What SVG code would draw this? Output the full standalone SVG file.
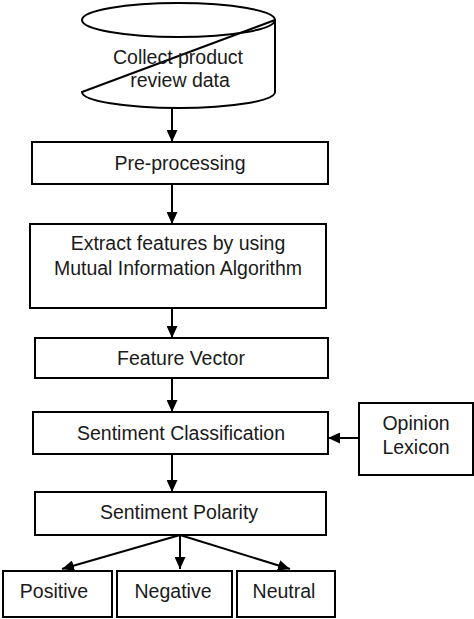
<svg xmlns="http://www.w3.org/2000/svg" width="474" height="619" viewBox="0 0 474 619">
<style>
.box{fill:#fff;stroke:#000;stroke-width:2}
.fillonly{fill:#fff;stroke:none}
.t{font-family:"Liberation Sans",Arial,sans-serif;font-size:19.5px;fill:#1a1a1a;text-anchor:middle}
.c{fill:none;stroke:#000;stroke-width:2}
</style>
<defs>
<marker id="ah" viewBox="0 0 12 11" refX="12" refY="5.5" markerWidth="12" markerHeight="11" markerUnits="userSpaceOnUse" orient="auto">
<path d="M0,0 L12,5.5 L0,11 Z" fill="#000"/>
</marker>
</defs>
<rect width="474" height="619" fill="#fff"/>
<g id="collect">
<ellipse class="box" cx="178.5" cy="20" rx="96.5" ry="17"/>
<path class="c" d="M275,20 L275,92 A96.5,16 0 0 1 82,92 L275,20"/>
<text class="t" x="178" y="64">Collect product</text>
<text class="t" x="180" y="87">review data</text>
</g>
<g id="preprocessing">
<rect class="box" x="32" y="142" width="296" height="42"/>
<text class="t" x="180" y="170">Pre-processing</text>
</g>
<g id="extract">
<rect class="box" x="30" y="224" width="296" height="84"/>
<text class="t" x="178" y="250">Extract features by using</text>
<text class="t" x="178" y="275">Mutual Information Algorithm</text>
</g>
<g id="featurevector">
<rect class="box" x="35" y="338" width="293" height="40"/>
<text class="t" x="181" y="365">Feature Vector</text>
</g>
<g id="classification">
<rect class="box" x="33" y="412" width="295" height="42"/>
<text class="t" x="181" y="440">Sentiment Classification</text>
</g>
<g id="lexicon">
<rect class="box" x="359" y="403" width="114" height="72"/>
<text class="t" x="416" y="430">Opinion</text>
<text class="t" x="416" y="454">Lexicon</text>
</g>
<g id="polarity">
<rect class="box" x="35" y="492" width="291" height="43"/>
<text class="t" x="179" y="519">Sentiment Polarity</text>
</g>
<g id="positive">
<rect class="box" x="3" y="571" width="109" height="46"/>
<text class="t" x="54" y="598">Positive</text>
</g>
<g id="negative">
<rect class="box" x="117" y="571" width="115" height="46"/>
<text class="t" x="173" y="598">Negative</text>
</g>
<g id="neutral">
<rect class="box" x="237" y="571" width="98" height="46"/>
<text class="t" x="284" y="598">Neutral</text>
</g>
<g id="connectors" class="c" marker-end="url(#ah)">
<line x1="172" y1="108" x2="172" y2="142"/>
<line x1="172" y1="184" x2="172" y2="224"/>
<line x1="172" y1="308" x2="172" y2="338"/>
<line x1="172" y1="378" x2="172" y2="412"/>
<line x1="359" y1="438" x2="328" y2="438"/>
<line x1="172" y1="454" x2="172" y2="492"/>
<line x1="180" y1="535" x2="62" y2="569"/>
<line x1="180" y1="535" x2="180" y2="569"/>
<line x1="180" y1="535" x2="290" y2="569"/>
</g>
</svg>
